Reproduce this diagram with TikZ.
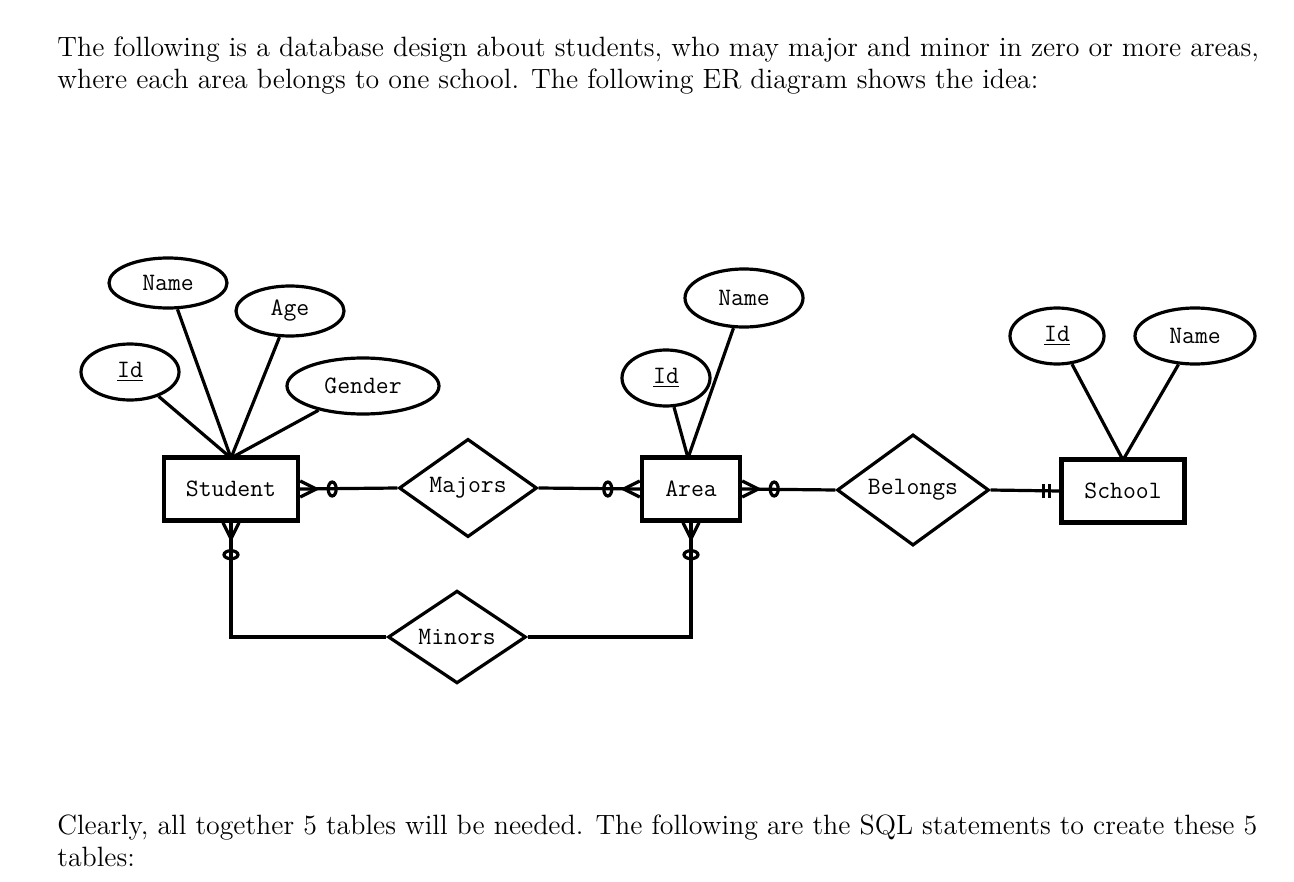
\documentclass[tikz,border=0pt]{standalone}
\usetikzlibrary{shapes.geometric}
\begin{document}
\begin{tikzpicture}[x=0.5pt,y=-0.5pt,
  ent/.style={draw,line width=2.2pt,minimum width=67pt,minimum height=31.5pt,font=\fontsize{12.5}{14}\ttfamily,inner sep=0},
  rel/.style={draw,line width=1.6pt,diamond,inner sep=0,font=\fontsize{12.5}{14}\ttfamily},
  att/.style={draw,line width=1.6pt,ellipse,inner sep=0,font=\fontsize{12.5}{14}\ttfamily},
  ln/.style={line width=1.6pt},
  txt/.style={anchor=base west,inner sep=0,font=\fontsize{13.95}{16}\selectfont}]
\useasboundingbox (0,0) rectangle (1294,882);
\node[txt] (t1) at (57,57) {The following is a database design about students, who may major and minor in zero or more areas,};
\node[txt] (t2) at (57,89) {where each area belongs to one school. The following ER diagram shows the idea:};
\node[txt] (t3) at (57,834) {Clearly, all together 5 tables will be needed. The following are the SQL statements to create these 5};
\node[txt] (t4) at (57,866) {tables:};

\node[ent] (st) at (231,489) {Student};
\node[ent,minimum width=49pt] (ar) at (691,489) {Area};
\node[ent,minimum width=61.5pt] (sc) at (1123,491) {School};
\node[rel,minimum width=69pt,minimum height=44pt] (mj) at (468,488) {Majors};
\node[rel,minimum width=76pt,minimum height=46pt] (bl) at (913,490) {Belongs};
\node[rel,minimum width=69pt,minimum height=43pt] (mn) at (457,637) {Minors};

\node[att,minimum width=59pt,minimum height=25pt] (sn) at (168,283) {Name};
\node[att,minimum width=54pt,minimum height=25pt] (sa) at (290,311) {Age};
\node[att,minimum width=49pt,minimum height=28pt] (si) at (130,372) {\underline{Id}};
\node[att,minimum width=76pt,minimum height=28pt] (sg) at (363,386) {Gender};
\node[att,minimum width=59pt,minimum height=29pt] (an) at (744,298) {Name};
\node[att,minimum width=44pt,minimum height=28pt] (ai) at (666,378) {\underline{Id}};
\node[att,minimum width=47pt,minimum height=28pt] (ci) at (1057,336) {\underline{Id}};
\node[att,minimum width=60pt,minimum height=28pt] (cn) at (1195,336) {Name};

\coordinate (stt) at (231,458);
\coordinate (art) at (688,458);
\coordinate (sct) at (1123,460);
\foreach \a in {sn,sa,si,sg} \draw[ln] (\a) -- (stt);
\draw[ln] (ai) -- (art); \draw[ln] (an) -- (art);
\draw[ln] (ci) -- (sct); \draw[ln] (cn) -- (sct);

\draw[ln] (st.east) -- (mj.west);
\draw[ln] (mj.east) -- (ar.west);
\draw[ln] (ar.east) -- (bl.west);
\draw[ln] (bl.east) -- (sc.west);
\draw[ln] (st.south) |- (mn.west);
\draw[ln] (mn.east) -| (ar.south);

\foreach \p/\r in {st.east/0, ar.east/0, ar.west/180, st.south/-90, ar.south/-90}{
  \begin{scope}[shift={(\p)},rotate=\r]
    \draw[ln] (0,-8) -- (16,0) -- (0,8);
    \draw[ln] (32,0) ellipse[x radius=4,y radius=7];
  \end{scope}
}
\begin{scope}[shift={(sc.west)}]
  \draw[ln] (-10,-7) -- (-10,7);
  \draw[ln] (-16,-7) -- (-16,7);
\end{scope}
\end{tikzpicture}
\end{document}
